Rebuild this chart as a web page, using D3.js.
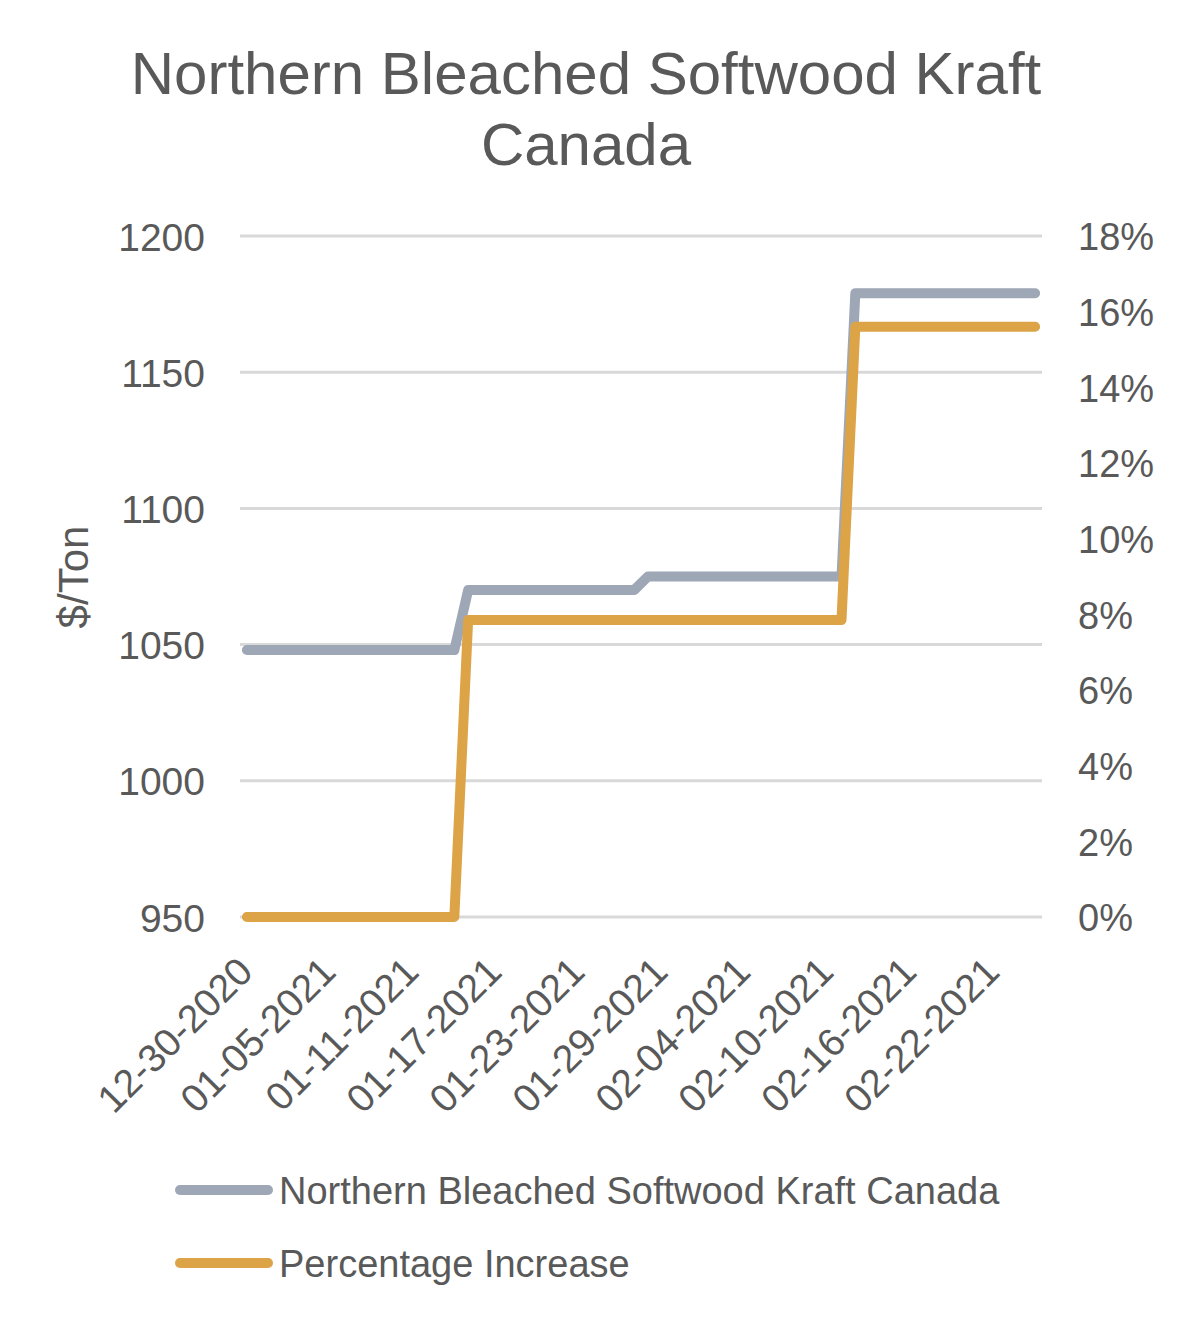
<!DOCTYPE html>
<html>
<head>
<meta charset="utf-8">
<script src="https://cdnjs.cloudflare.com/ajax/libs/d3/7.8.5/d3.min.js"></script>
<style>
    body { margin: 0; background: #fff; }
    #chart-area text { font-family: "Liberation Sans", Arial, sans-serif; fill: #595959; }
</style>
</head>
<body>
<div id="chart-area"></div>
<script>

/* * * * * * * * * * * * * *
*       Pulp price         *
* * * * * * * * * * * * * */

// daily categories, 12-30-2020 .. 02-25-2021
const dates = [
    "12-30-2020", "12-31-2020",
    "01-01-2021", "01-02-2021", "01-03-2021", "01-04-2021", "01-05-2021", "01-06-2021", "01-07-2021",
    "01-08-2021", "01-09-2021", "01-10-2021", "01-11-2021", "01-12-2021", "01-13-2021", "01-14-2021",
    "01-15-2021", "01-16-2021", "01-17-2021", "01-18-2021", "01-19-2021", "01-20-2021", "01-21-2021",
    "01-22-2021", "01-23-2021", "01-24-2021", "01-25-2021", "01-26-2021", "01-27-2021", "01-28-2021",
    "01-29-2021", "01-30-2021", "01-31-2021",
    "02-01-2021", "02-02-2021", "02-03-2021", "02-04-2021", "02-05-2021", "02-06-2021", "02-07-2021",
    "02-08-2021", "02-09-2021", "02-10-2021", "02-11-2021", "02-12-2021", "02-13-2021", "02-14-2021",
    "02-15-2021", "02-16-2021", "02-17-2021", "02-18-2021", "02-19-2021", "02-20-2021", "02-21-2021",
    "02-22-2021", "02-23-2021", "02-24-2021", "02-25-2021"
];

// $/Ton
const priceValues = [
    1048, 1048,
    1048, 1048, 1048, 1048, 1048, 1048, 1048,
    1048, 1048, 1048, 1048, 1048, 1048, 1048,
    1070, 1070, 1070, 1070, 1070, 1070, 1070,
    1070, 1070, 1070, 1070, 1070, 1070, 1075,
    1075, 1075, 1075,
    1075, 1075, 1075, 1075, 1075, 1075, 1075,
    1075, 1075, 1075, 1075, 1179, 1179, 1179,
    1179, 1179, 1179, 1179, 1179, 1179, 1179,
    1179, 1179, 1179, 1179
];

// percentage increase
const pctValues = [
    0, 0,
    0, 0, 0, 0, 0, 0, 0,
    0, 0, 0, 0, 0, 0, 0,
    7.85, 7.85, 7.85, 7.85, 7.85, 7.85, 7.85,
    7.85, 7.85, 7.85, 7.85, 7.85, 7.85, 7.85,
    7.85, 7.85, 7.85,
    7.85, 7.85, 7.85, 7.85, 7.85, 7.85, 7.85,
    7.85, 7.85, 7.85, 7.85, 15.6, 15.6, 15.6,
    15.6, 15.6, 15.6, 15.6, 15.6, 15.6, 15.6,
    15.6, 15.6, 15.6, 15.6
];

const xTickLabels = ["12-30-2020", "01-05-2021", "01-11-2021", "01-17-2021", "01-23-2021",
    "01-29-2021", "02-04-2021", "02-10-2021", "02-16-2021", "02-22-2021"];
const leftTicks = [950, 1000, 1050, 1100, 1150, 1200];
const rightTicks = [0, 2, 4, 6, 8, 10, 12, 14, 16, 18];

const seriesNames = ["Northern Bleached Softwood Kraft Canada", "Percentage Increase"];
const colors = ["#9EA7B5", "#DCA447"];

class PulpVis {
    constructor(parentElement) {
        this.parentElement = parentElement;
        this.initVis();
    }

    initVis() {
        let vis = this;

        vis.width = 1200;
        vis.height = 1333;

        // plot area
        vis.plot = {left: 240, right: 1042, top: 236, bottom: 917};

        vis.svg = d3.select("#" + vis.parentElement).append("svg")
            .attr("width", vis.width)
            .attr("height", vis.height);

        vis.x = d3.scalePoint()
            .domain(dates)
            .range([vis.plot.left, vis.plot.right])
            .padding(0.5);

        vis.yLeft = d3.scaleLinear()
            .domain([950, 1200])
            .range([vis.plot.bottom, vis.plot.top]);

        vis.yRight = d3.scaleLinear()
            .domain([0, 18])
            .range([vis.plot.bottom, vis.plot.top]);

        vis.updateVis();
    }

    updateVis() {
        let vis = this;

        // title
        let title = vis.svg.append("text")
            .attr("text-anchor", "middle")
            .style("font-size", "60px");
        title.append("tspan").attr("x", 586).attr("y", 94).text("Northern Bleached Softwood Kraft");
        title.append("tspan").attr("x", 586).attr("y", 165).text("Canada");

        // gridlines
        vis.svg.append("g")
            .selectAll("line")
            .data(leftTicks)
            .enter().append("line")
            .attr("x1", vis.plot.left)
            .attr("x2", vis.plot.right)
            .attr("y1", d => vis.yLeft(d))
            .attr("y2", d => vis.yLeft(d))
            .attr("stroke", "#D9D9D9")
            .attr("stroke-width", 3);

        // left axis
        let leftAxis = d3.axisLeft(vis.yLeft)
            .tickValues(leftTicks)
            .tickSize(0)
            .tickPadding(0)
            .tickFormat(d3.format("d"));
        let gl = vis.svg.append("g")
            .attr("transform", "translate(205,0)")
            .call(leftAxis);
        gl.select(".domain").remove();
        gl.selectAll("text").style("font-size", "39px").attr("dy", "0.36em");

        // right axis
        let rightAxis = d3.axisRight(vis.yRight)
            .tickValues(rightTicks)
            .tickSize(0)
            .tickPadding(0)
            .tickFormat(d => d + "%");
        let gr = vis.svg.append("g")
            .attr("transform", "translate(1078,0)")
            .call(rightAxis);
        gr.select(".domain").remove();
        gr.selectAll("text").style("font-size", "38px").attr("dy", "0.36em");

        // x labels
        vis.svg.append("g")
            .selectAll("text")
            .data(xTickLabels)
            .enter().append("text")
            .attr("text-anchor", "end")
            .attr("transform", d => `translate(${vis.x(d) + 8},974) rotate(-45)`)
            .style("font-size", "39px")
            .text(d => d);

        // y axis title
        vis.svg.append("text")
            .attr("text-anchor", "middle")
            .attr("transform", "translate(88,577) rotate(-90)")
            .style("font-size", "42px")
            .text("$/Ton");

        // lines
        let lineLeft = d3.line()
            .x((d, i) => vis.x(dates[i]))
            .y(d => vis.yLeft(d));
        let lineRight = d3.line()
            .x((d, i) => vis.x(dates[i]))
            .y(d => vis.yRight(d));

        vis.svg.append("path")
            .datum(priceValues)
            .attr("d", lineLeft)
            .attr("fill", "none")
            .attr("stroke", colors[0])
            .attr("stroke-width", 10)
            .attr("stroke-linecap", "round")
            .attr("stroke-linejoin", "round");

        vis.svg.append("path")
            .datum(pctValues)
            .attr("d", lineRight)
            .attr("fill", "none")
            .attr("stroke", colors[1])
            .attr("stroke-width", 10)
            .attr("stroke-linecap", "round")
            .attr("stroke-linejoin", "round");

        // legend
        let legend = vis.svg.append("g")
            .selectAll("g")
            .data(seriesNames)
            .enter().append("g")
            .attr("transform", (d, i) => `translate(0,${1190 + i * 73})`);

        legend.append("line")
            .attr("x1", 180)
            .attr("x2", 268)
            .attr("stroke", (d, i) => colors[i])
            .attr("stroke-width", 10)
            .attr("stroke-linecap", "round");

        legend.append("text")
            .attr("x", 279)
            .attr("y", 14)
            .style("font-size", "38px")
            .text(d => d);
    }
}

new PulpVis("chart-area");
</script>
</body>
</html>
